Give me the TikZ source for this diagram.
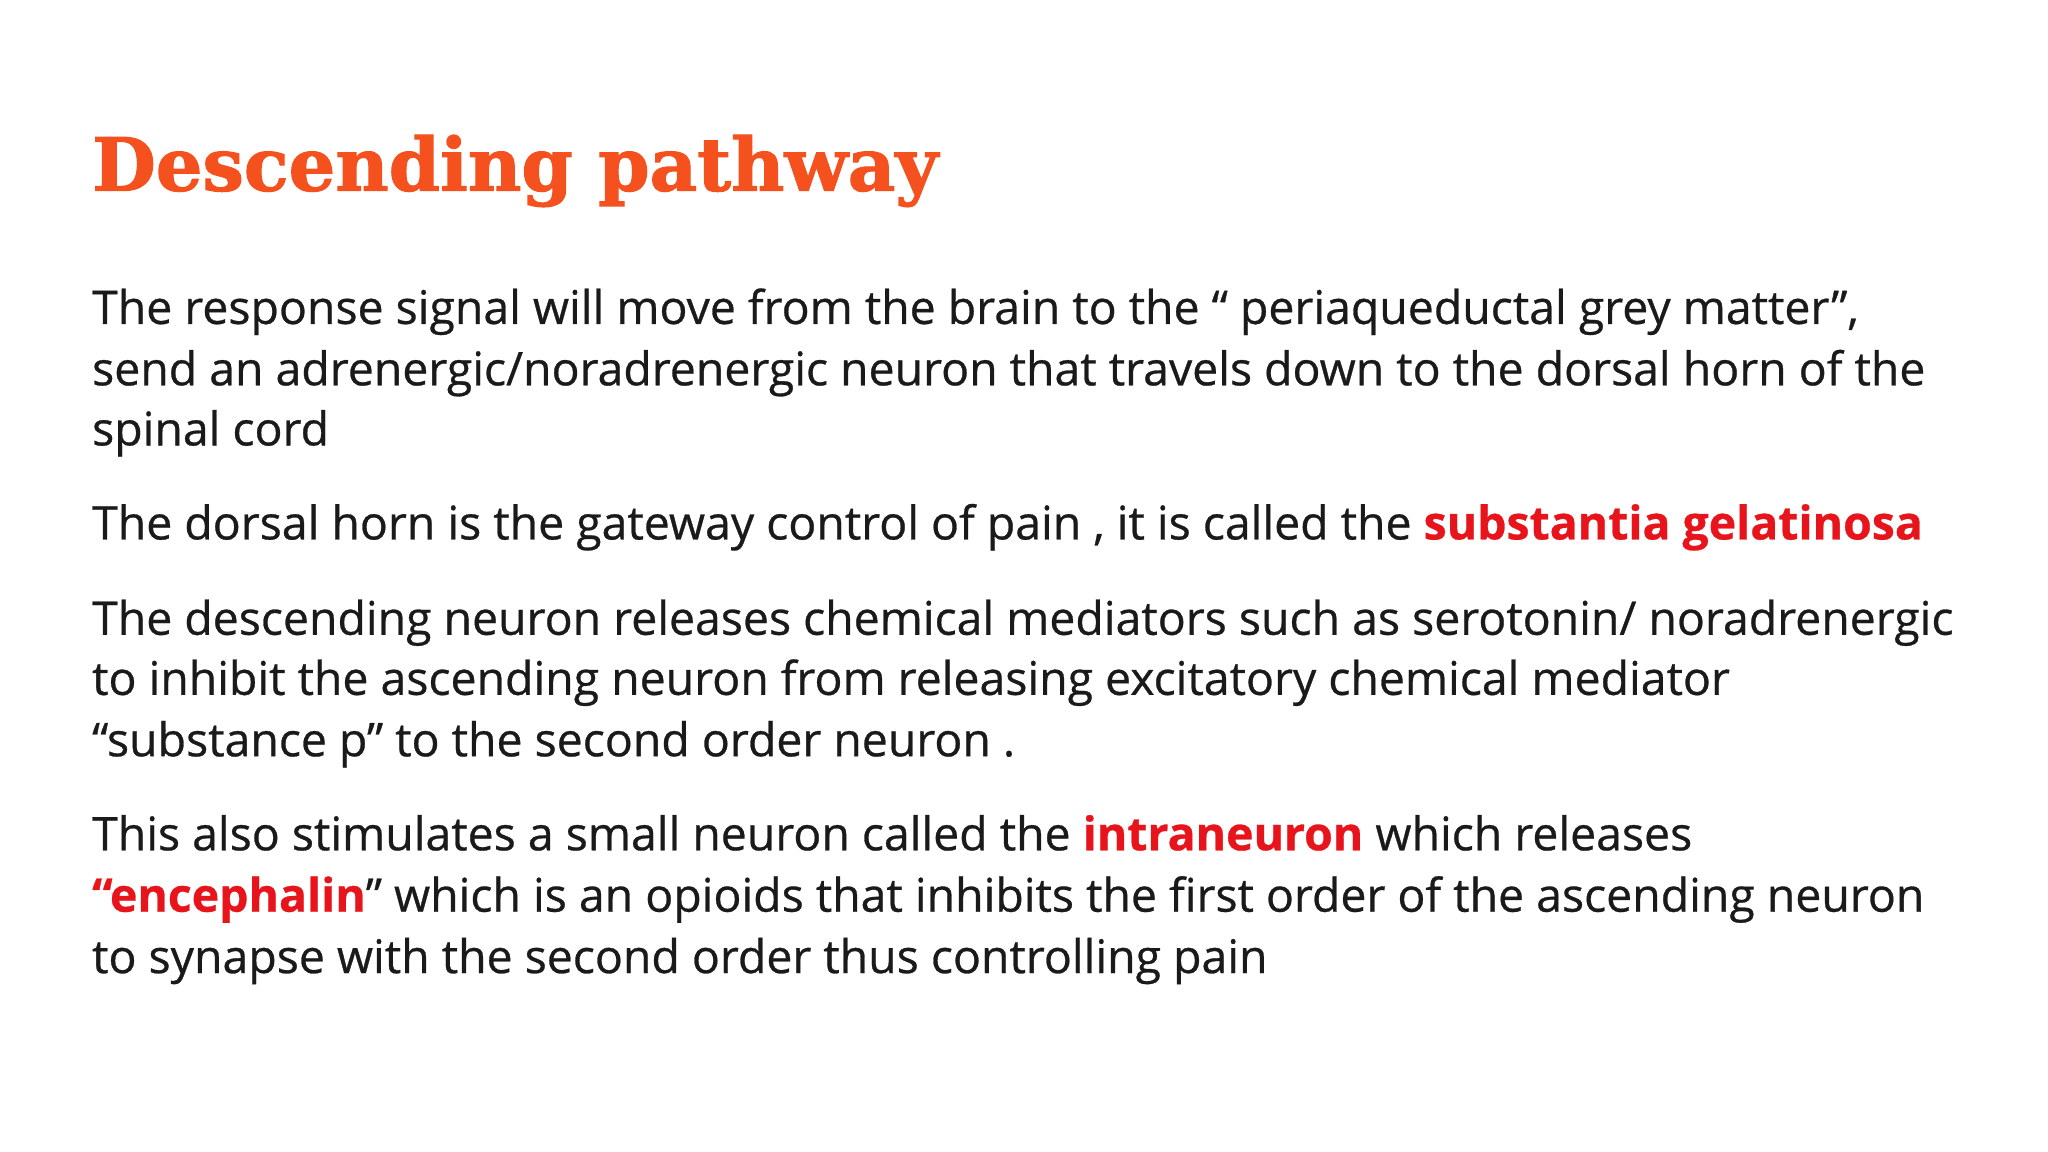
\documentclass[tikz,border=0pt]{standalone}
\usepackage{fontspec}
\setmainfont{Open Sans}[Ligatures=NoCommon,FakeBold=0.6]
\newfontfamily\titlefont{DejaVu Serif}[FakeBold=1.5]
\definecolor{ttl}{HTML}{F4511E}
\definecolor{hl}{HTML}{E8141B}
\definecolor{txt}{HTML}{1A1A1A}
\begin{document}
\begin{tikzpicture}[x=0.013061cm,y=-0.013061cm,
  body/.style={anchor=base west,inner sep=0pt,font=\fontsize{13.2}{16}\selectfont,text=txt},
  title/.style={anchor=base west,inner sep=0pt,font=\titlefont\bfseries\fontsize{20.9}{26}\selectfont,text=ttl}]
\useasboundingbox (0,0) rectangle (1568,882);
\node[title] (t) at (70,146) {Descending pathway};
\node[body] (l1) at (70,248) {The response signal will move from the brain to the “ periaqueductal grey matter”,};
\node[body] (l2) at (70,295) {send an adrenergic/noradrenergic neuron that travels down to the dorsal horn of the};
\node[body] (l3) at (70,341) {spinal cord};
\node[body] (l4) at (70,413) {The dorsal horn is the gateway control of pain , it is called the \textcolor{hl}{\bfseries substantia gelatinosa}};
\node[body] (l5) at (70,486) {The descending neuron releases chemical mediators such as serotonin/ noradrenergic};
\node[body] (l6) at (70,532) {to inhibit the ascending neuron from releasing excitatory chemical mediator};
\node[body] (l7) at (70,579) {“substance p” to the second order neuron .};
\node[body] (l8) at (70,651) {This also stimulates a small neuron called the \textcolor{hl}{\bfseries intraneuron} which releases};
\node[body] (l9) at (70,698) {\textcolor{hl}{\bfseries “encephalin}” which is an opioids that inhibits the first order of the ascending neuron};
\node[body] (l10) at (70,745) {to synapse with the second order thus controlling pain};
\end{tikzpicture}
\end{document}
